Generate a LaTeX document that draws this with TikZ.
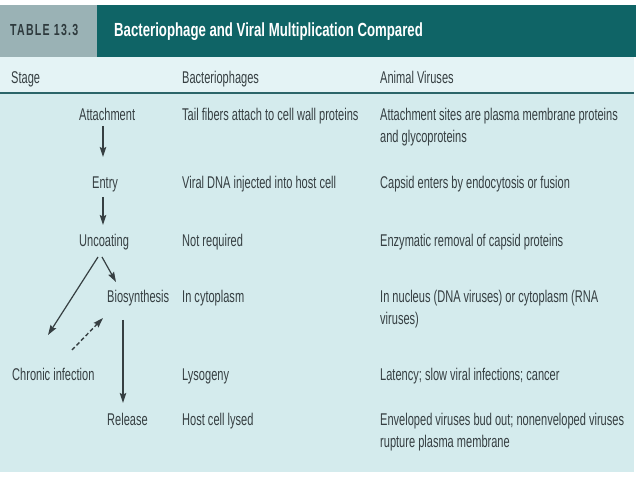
\documentclass[tikz,border=0pt]{standalone}
\usepackage{fontspec}
\usetikzlibrary{arrows.meta}
\newfontfamily\bodyf[FakeStretch=0.65]{Liberation Sans}
\newfontfamily\titlef[FakeStretch=0.695]{Liberation Sans Bold}
\newfontfamily\tablef[FakeStretch=0.66,LetterSpace=8]{Liberation Sans Bold}
\definecolor{teal1}{HTML}{0F6466}
\definecolor{gray1}{HTML}{9AB2B5}
\definecolor{sub1}{HTML}{E4F3F5}
\definecolor{body1}{HTML}{D4EBED}
\definecolor{line1}{HTML}{2B6569}
\definecolor{txt1}{HTML}{363F42}
\definecolor{tabtxt}{HTML}{2E3A3D}
\newcommand{\twolines}[2]{\begin{tabular}[t]{@{}l@{}}#1\\#2\end{tabular}}
\tikzset{
  cell/.style={anchor=base west, inner sep=0pt, font=\bodyf\fontsize{17}{22}\selectfont, text=txt1},
  arr/.style={draw=txt1, line width=1.2pt, -{Stealth[length=10pt,width=6.5pt,inset=1.5pt]}},
  darr/.style={arr, line width=1.4pt, dash pattern=on 4pt off 2.5pt}
}
\begin{document}
\begin{tikzpicture}[x=1pt,y=-1pt]
\useasboundingbox (0,0) rectangle (638,478);
\fill[white] (0,0) rectangle (638,478);
% header bands
\fill[teal1] (97,5) rectangle (636,57);
\fill[gray1] (0,5) rectangle (97,57);
\fill[sub1] (0,57) rectangle (634,92);
\fill[line1] (0,92) rectangle (634,94.5);
\fill[body1] (0,94.5) rectangle (634,472);
% titles
\node[anchor=base west, inner sep=0pt, font=\tablef\fontsize{16}{18}\selectfont, text=tabtxt] (tab) at (10,36) {TABLE 13.3};
\node[anchor=base west, inner sep=0pt, font=\titlef\fontsize{19}{22}\selectfont, text=white] (title) at (114,37) {Bacteriophage and Viral Multiplication Compared};
% column heads
\node[cell] (hstage) at (11,84) {Stage};
\node[cell] (hbac) at (182,84) {Bacteriophages};
\node[cell] (hani) at (380,84) {Animal Viruses};
% stage column
\node[cell] (att) at (79,121) {Attachment};
\node[cell] (ent) at (92,189) {Entry};
\node[cell] (unc) at (79,247) {Uncoating};
\node[cell] (bio) at (107,303) {Biosynthesis};
\node[cell] (chr) at (12,381) {Chronic infection};
\node[cell] (rel) at (107,426) {Release};
% bacteriophage column
\node[cell] (b1) at (182,121) {Tail fibers attach to cell wall proteins};
\node[cell] (b2) at (182,189) {Viral DNA injected into host cell};
\node[cell] (b3) at (182,247) {Not required};
\node[cell] (b4) at (182,303) {In cytoplasm};
\node[cell] (b5) at (182,381) {Lysogeny};
\node[cell] (b6) at (182,426) {Host cell lysed};
% animal virus column
\node[cell] (a1) at (380,121) {\twolines{Attachment sites are plasma membrane proteins}{and glycoproteins}};
\node[cell] (a2) at (380,189) {Capsid enters by endocytosis or fusion};
\node[cell] (a3) at (380,247) {Enzymatic removal of capsid proteins};
\node[cell] (a4) at (380,303) {\twolines{In nucleus (DNA viruses) or cytoplasm (RNA}{viruses)}};
\node[cell] (a5) at (380,381) {Latency; slow viral infections; cancer};
\node[cell] (a6) at (380,426) {\twolines{Enveloped viruses bud out; nonenveloped viruses}{rupture plasma membrane}};
% arrows
\draw[arr] ([shift={(24,5)}]att.base west) -- ([shift={(11,-32)}]ent.base west);
\draw[arr] ([shift={(11,8)}]ent.base west) -- ([shift={(24,-22)}]unc.base west);
\draw[arr] ([shift={(19,10)}]unc.base west) -- ([shift={(36,-46)}]chr.base west);
\draw[arr] ([shift={(23,10)}]unc.base west) -- ([shift={(9,-21)}]bio.base west);
\draw[darr] ([shift={(60,-31)}]chr.base west) -- ([shift={(-4,15)}]bio.base west);
\draw[arr] ([shift={(16,17)}]bio.base west) -- ([shift={(16,-23)}]rel.base west);
\end{tikzpicture}
\end{document}
